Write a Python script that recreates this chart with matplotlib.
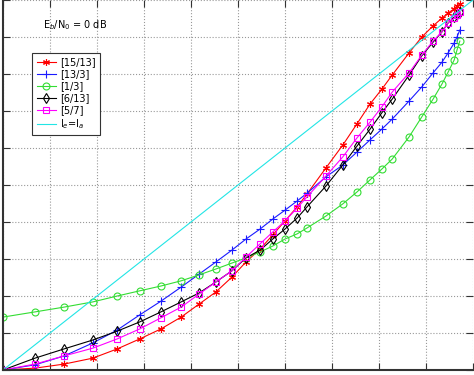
import matplotlib
matplotlib.use("Agg")
import matplotlib.pyplot as plt

# EXIT chart, Eb/N0 = 0 dB: a priori info I_a (x) vs extrinsic info I_e (y)
I_a = [0.000, 0.068, 0.130, 0.191, 0.243, 0.291, 0.336, 0.379, 0.417, 0.453,
       0.487, 0.517, 0.547, 0.574, 0.600, 0.626, 0.647, 0.687, 0.723, 0.753,
       0.781, 0.806, 0.828, 0.864, 0.891, 0.915, 0.934, 0.947, 0.960, 0.966,
       0.972]

ie_15_13 = [0.000, 0.005, 0.016, 0.032, 0.057, 0.084, 0.111, 0.143, 0.178, 0.211,
            0.251, 0.292, 0.327, 0.365, 0.403, 0.441, 0.476, 0.546, 0.608, 0.665,
            0.719, 0.759, 0.797, 0.857, 0.900, 0.930, 0.951, 0.965, 0.976, 0.984,
            0.989]
ie_13_3 = [0.000, 0.014, 0.038, 0.073, 0.108, 0.149, 0.186, 0.224, 0.259, 0.292,
           0.324, 0.354, 0.381, 0.408, 0.432, 0.457, 0.478, 0.522, 0.554, 0.589,
           0.622, 0.651, 0.678, 0.727, 0.765, 0.803, 0.832, 0.857, 0.884, 0.900,
           0.919]
ie_1_3 = [0.143, 0.157, 0.170, 0.184, 0.200, 0.214, 0.227, 0.241, 0.257, 0.273,
          0.289, 0.303, 0.319, 0.335, 0.354, 0.368, 0.384, 0.416, 0.449, 0.481,
          0.514, 0.543, 0.570, 0.630, 0.684, 0.732, 0.773, 0.805, 0.838, 0.865,
          0.889]
ie_6_13 = [0.000, 0.032, 0.057, 0.081, 0.105, 0.130, 0.157, 0.184, 0.208, 0.238,
           0.268, 0.303, 0.324, 0.354, 0.381, 0.411, 0.441, 0.497, 0.554, 0.605,
           0.651, 0.695, 0.732, 0.797, 0.849, 0.886, 0.914, 0.938, 0.954, 0.962,
           0.968]
ie_5_7 = [0.000, 0.016, 0.038, 0.059, 0.084, 0.111, 0.141, 0.170, 0.205, 0.238,
          0.268, 0.305, 0.341, 0.373, 0.403, 0.438, 0.468, 0.524, 0.576, 0.627,
          0.670, 0.711, 0.751, 0.803, 0.851, 0.889, 0.914, 0.938, 0.951, 0.959,
          0.968]

diag = [0, 1]

fig = plt.figure(figsize=(4.74, 3.75), dpi=100)
ax = fig.add_axes([3 / 474, 5 / 375, 470 / 474, 370 / 375])

lw = 0.8
mew = 0.8
asterisk = (6, 2, 0)
ax.plot(I_a, ie_15_13, '-', color='#ff0000', marker=asterisk, ms=5, mew=mew, lw=lw, label='[15/13]')
ax.plot(I_a, ie_13_3, '-', color='#1a1aff', marker='+', ms=5.5, mew=mew, lw=lw, label='[13/3]')
ax.plot(I_a, ie_1_3, '-', color='#33dd33', marker='o', ms=5, mew=mew, mfc='none', lw=lw, label='[1/3]')
ax.plot(I_a, ie_6_13, '-', color='#000000', marker='d', ms=5.5, mew=mew, mfc='none', lw=lw, label='[6/13]')
ax.plot(I_a, ie_5_7, '-', color='#ff00ff', marker='s', ms=4.5, mew=mew, mfc='none', lw=lw, label='[5/7]')
ax.plot(diag, diag, '-', color='#22e5e5', lw=lw, label=r'I$_e$=I$_a$')

ax.set_xlim(0, 1)
ax.set_ylim(0, 1)
ax.set_xticks([i / 10 for i in range(11)])
ax.set_yticks([i / 10 for i in range(11)])
ax.tick_params(direction='in', length=5, top=True, right=True,
               labelbottom=False, labelleft=False, color='#333333')
ax.grid(True, linestyle=':', color='#999999', lw=0.8)
for s in ax.spines.values():
    s.set_color('#333333')
    s.set_linewidth(1.5)
ax.spines['top'].set_visible(False)
ax.spines['right'].set_visible(False)

ax.text(0.153, 0.932, r'E$_b$/N$_0$ = 0 dB', fontsize=7, ha='center', va='center')

leg = ax.legend(loc='upper left', bbox_to_anchor=(0.062, 0.857), borderaxespad=0,
                fontsize=7, handlelength=2.0, labelspacing=0.2, handletextpad=0.4,
                borderpad=0.45, fancybox=False, framealpha=1)
leg.get_frame().set_edgecolor('#333333')
leg.get_frame().set_linewidth(0.8)

fig.savefig('out.png', dpi=100)
